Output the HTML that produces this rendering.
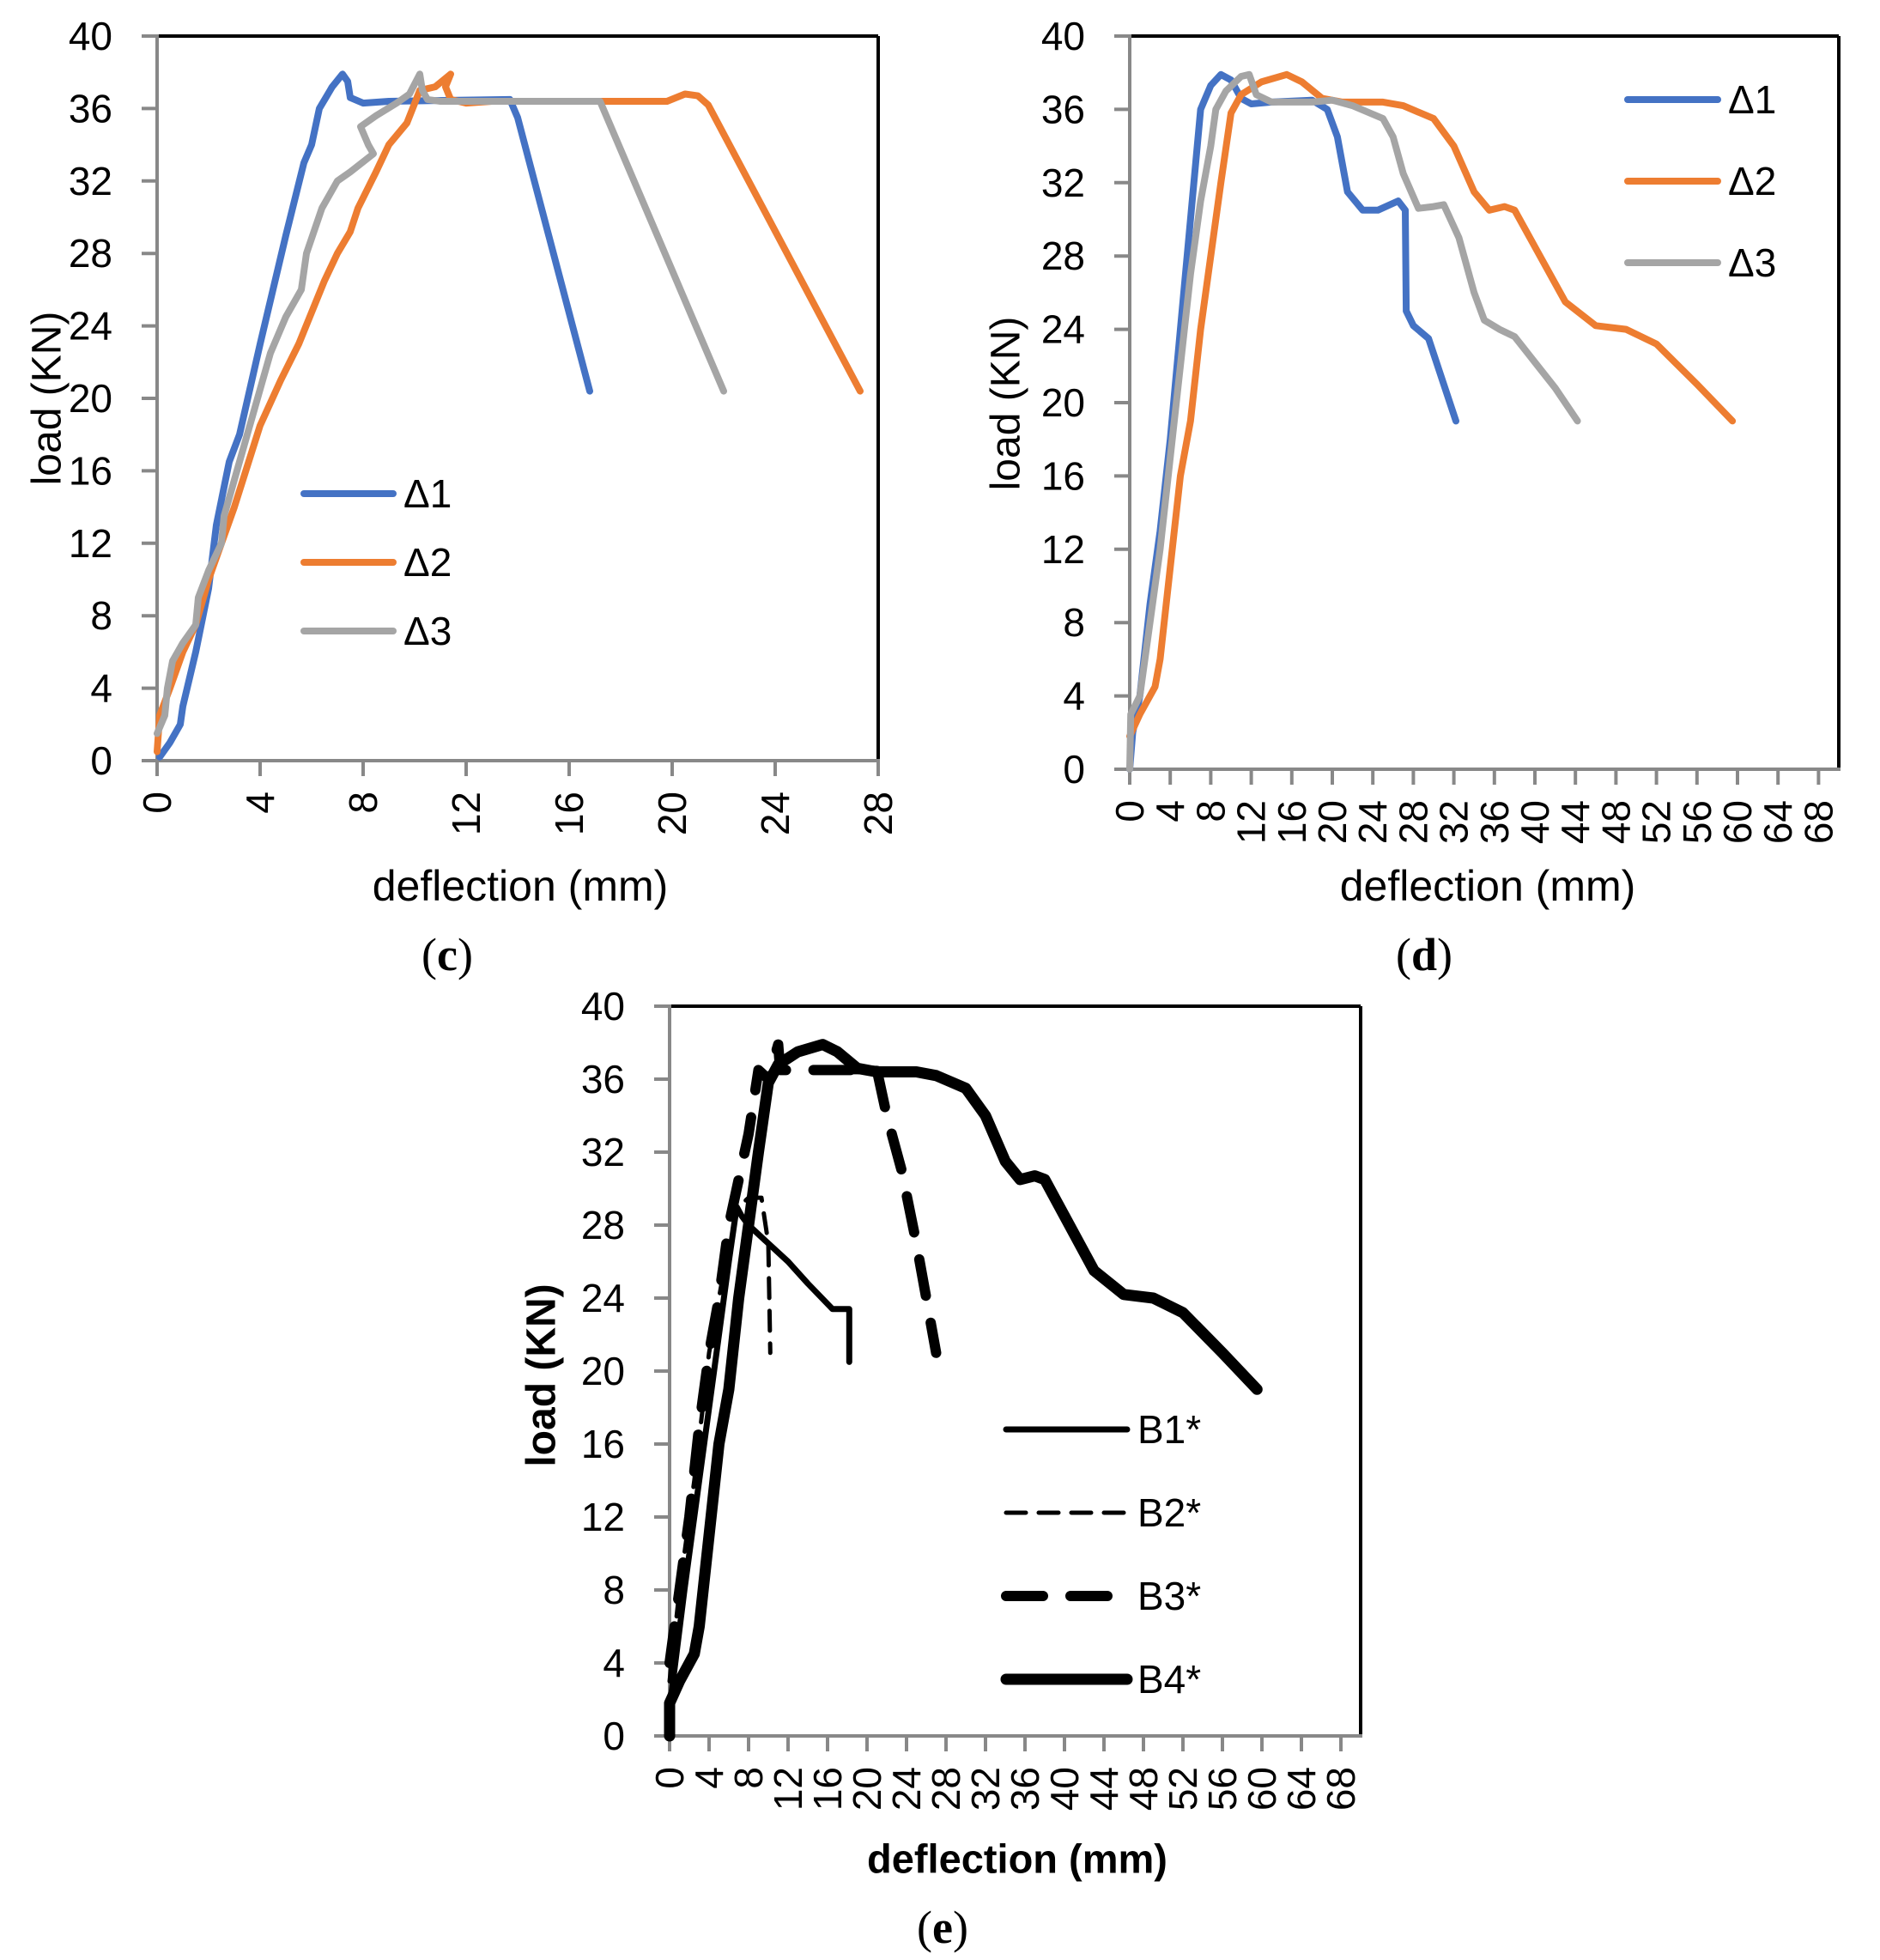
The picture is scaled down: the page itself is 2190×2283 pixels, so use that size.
<!DOCTYPE html>
<html><head><meta charset="utf-8">
<style>html,body{margin:0;padding:0;background:#fff;}svg{display:block;}</style>
</head><body>
<svg id="s" xmlns="http://www.w3.org/2000/svg" width="2190" height="2283" viewBox="0 0 2190 2283" font-family="'Liberation Sans', sans-serif"></svg>
<script>
const S=document.getElementById('s');
let h='';
function chart(o){
  const X=v=>o.x0+v*o.ux, Y=v=>o.y0-v*(o.y0-o.y40)/40;
  const xr=X(o.xmax);
  h+=`<line x1="${o.x0}" y1="${o.y40}" x2="${xr}" y2="${o.y40}" stroke="#000" stroke-width="4"/>`;
  h+=`<line x1="${xr}" y1="${o.y40}" x2="${xr}" y2="${o.y0}" stroke="#000" stroke-width="4"/>`;
  h+=`<line x1="${o.x0}" y1="${o.y40-2}" x2="${o.x0}" y2="${o.y0}" stroke="#888" stroke-width="4"/>`;
  h+=`<line x1="${o.x0}" y1="${o.y0}" x2="${xr+2}" y2="${o.y0}" stroke="#888" stroke-width="4"/>`;
  for(let v=0;v<=40;v+=4){const y=Y(v);
    h+=`<line x1="${o.x0-18}" y1="${y}" x2="${o.x0}" y2="${y}" stroke="#888" stroke-width="4"/>`;
    h+=`<text x="${o.x0-52}" y="${y}" font-size="46" text-anchor="end" dominant-baseline="central">${v}</text>`;}
  for(let v=0;v<=o.xt;v+=4){const x=X(v);
    h+=`<line x1="${x}" y1="${o.y0}" x2="${x}" y2="${o.y0+18}" stroke="#888" stroke-width="4"/>`;
    h+=`<text transform="translate(${x},${o.y0+36}) rotate(-90)" font-size="46" text-anchor="end" dominant-baseline="central">${v}</text>`;}
  const fw=o.bold?'bold':'normal';
  h+=`<text transform="translate(${o.ylx},${o.yly}) rotate(-90)" font-size="48" font-weight="${fw}" text-anchor="middle" dominant-baseline="central">load (KN)</text>`;
  h+=`<text x="${o.dx}" y="${o.dy}" font-size="${o.bold?47:50}" font-weight="${fw}" text-anchor="middle" dominant-baseline="central">deflection (mm)</text>`;
  h+=`<text x="${o.lx}" y="${o.ly}" font-family="'Liberation Serif', serif" font-size="54" text-anchor="middle" dominant-baseline="central">(<tspan font-weight="bold">${o.lab}</tspan>)</text>`;
  o.series.forEach(s=>{
    const p=s.d.map(q=>X(q[0]).toFixed(1)+','+Y(q[1]).toFixed(1)).join(' ');
    h+=`<polyline points="${p}" fill="none" stroke="${s.c}" stroke-width="${s.w}" stroke-linejoin="round" stroke-linecap="round" ${s.da?'stroke-dasharray="'+s.da+'"':''}/>`;
  });
  o.leg.forEach(l=>{
    h+=`<line x1="${l[0]}" y1="${l[2]}" x2="${l[1]}" y2="${l[2]}" stroke="${l[3]}" stroke-width="${l[4]}" stroke-linecap="round" ${l[6]?'stroke-dasharray="'+l[6]+'"':''}/>`;
    h+=`<text x="${l[1]+12}" y="${l[2]}" font-size="46" dominant-baseline="central">${l[5]}</text>`;
  });
}
const B='#4472C4',O='#ED7D31',G='#A5A5A5';
chart({x0:183,ux:30,xmax:28,xt:28,y0:886,y40:42,ylx:55,yly:464,dx:606,dy:1032,lx:521,ly:1112,lab:'c',
series:[
{c:B,w:8,d:[[0.1,0.2],[0.5,1],[0.9,2],[1.0,3],[1.5,6],[2,9.5],[2.3,13],[2.8,16.5],[3.2,18],[4,23],[5,29],[5.7,33],[6,34],[6.3,36],[6.8,37.2],[7.2,37.9],[7.4,37.5],[7.5,36.6],[8,36.3],[9,36.4],[13.7,36.5],[14,35.5],[16.8,20.4]]},
{c:O,w:8,d:[[0,0.5],[0.1,2.5],[0.5,4],[1,6],[1.5,7.5],[2,10],[2.5,12],[3,14],[4,18.5],[4.8,21],[5.5,23],[6.5,26.5],[7,28],[7.5,29.2],[7.8,30.5],[8.5,32.5],[9,34],[9.7,35.2],[10.2,37],[10.8,37.2],[11.4,37.9],[11.2,37.2],[11.4,36.5],[12,36.3],[13,36.4],[19.8,36.4],[20.5,36.8],[21,36.7],[21.4,36.2],[27.3,20.4]]},
{c:G,w:8,d:[[0,1.5],[0.3,2.5],[0.4,4],[0.6,5.5],[1,6.5],[1.5,7.5],[1.6,9],[2,10.5],[2.5,12],[2.6,13.5],[3.5,18],[4.4,22.5],[5,24.5],[5.6,26],[5.8,28],[6.4,30.5],[7,32],[7.5,32.5],[8.4,33.5],[8.2,34],[7.9,35],[8.5,35.6],[9.3,36.3],[9.8,36.8],[10.2,37.9],[10.3,37],[10.5,36.5],[11,36.4],[17.2,36.4],[22,20.4]]}],
leg:[[354,458,575,B,8,'Δ1'],[354,458,655,O,8,'Δ2'],[354,458,735,G,8,'Δ3']]});
const oD=[[0,1.8],[1,3],[2.5,4.5],[3,6],[4,11],[5,16],[6,19],[7,24],[8,28],[9,32],[10,35.8],[11,36.8],[13,37.5],[15.5,37.9],[17,37.5],[19,36.6],[21,36.4],[23,36.4],[25,36.4],[27,36.2],[30,35.5],[32,34],[34,31.5],[35.5,30.5],[37,30.7],[38,30.5],[40,28.5],[43,25.5],[46,24.2],[49,24],[52,23.2],[56,21],[59.5,19]];
chart({x0:1316,ux:11.8,xmax:70,xt:68,y0:896,y40:42,ylx:1172,yly:470,dx:1733,dy:1032,lx:1659,ly:1112,lab:'d',
series:[
{c:B,w:8,d:[[0,0],[0.3,2],[1,4],[2,9],[3,13],[4,18],[5,24],[6,30],[7,36],[8,37.3],[9,37.9],[10,37.6],[11,36.6],[12,36.3],[14,36.4],[18,36.5],[19.5,36],[20.5,34.5],[21.5,31.5],[23,30.5],[24.5,30.5],[26.5,31],[27.2,30.5],[27.3,25],[28,24.2],[29.5,23.5],[31,21],[32.2,19]]},
{c:O,w:8,d:oD},
{c:G,w:8,d:[[0,0],[0.1,3],[1,4],[2,8],[3,12],[4,17],[5,22],[6,27],[7,31],[8,34],[8.5,36],[9.5,37],[11,37.8],[11.8,37.9],[12.5,36.8],[14,36.4],[18,36.4],[20,36.5],[22,36.2],[25,35.5],[26,34.5],[27,32.5],[28.5,30.6],[30,30.7],[31,30.8],[32.5,29],[34,26],[35,24.5],[36.5,24],[38,23.6],[40,22.2],[42,20.8],[44.2,19]]}],
leg:[[1896,2001,116,B,8,'Δ1'],[1896,2001,211,O,8,'Δ2'],[1896,2001,306,G,8,'Δ3']]});
chart({x0:780,ux:11.5,xmax:70,xt:68,y0:2022,y40:1172,ylx:631,yly:1602,dx:1185,dy:2165,lx:1098,ly:2245,lab:'e',bold:true,
series:[
{c:'#000',w:7,d:[[0,1.5],[1.5,8],[3,14],[4.5,20],[6,26],[6.8,29],[7.3,28.5],[8,28],[10,27],[12,26],[14,24.8],[16.5,23.4],[18.2,23.4],[18.2,20.5]]},
{c:'#000',w:5,da:'23 15',d:[[0,3],[1,8],[2.5,14],[4,21],[6,27],[7,29],[8,29.5],[9.3,29.5],[10,27],[10.2,21]]},
{c:'#000',w:12,da:'43 32',d:[[0,4],[1,8],[2,12],[3,17],[4,21],[5,24],[6,28],[7,30.5],[8,33],[9,36.5],[10,36],[11,37.9],[11.2,36.5],[15,36.5],[21,36.5],[22,34],[23.5,31],[25,27],[27,21]]},
{c:'#000',w:13,d:[[0,0],[0,1.8]].concat(oD)},
{c:'#000',w:10,d:[[15,36.5],[21,36.5]]}],
leg:[[1172,1313,1665,'#000',7,'B1*'],[1172,1313,1762,'#000',5,'B2*','23 15'],[1172,1313,1859,'#000',12,'B3*','43 32'],[1172,1313,1956,'#000',13,'B4*']]});
S.innerHTML=h;
</script>
</body></html>
